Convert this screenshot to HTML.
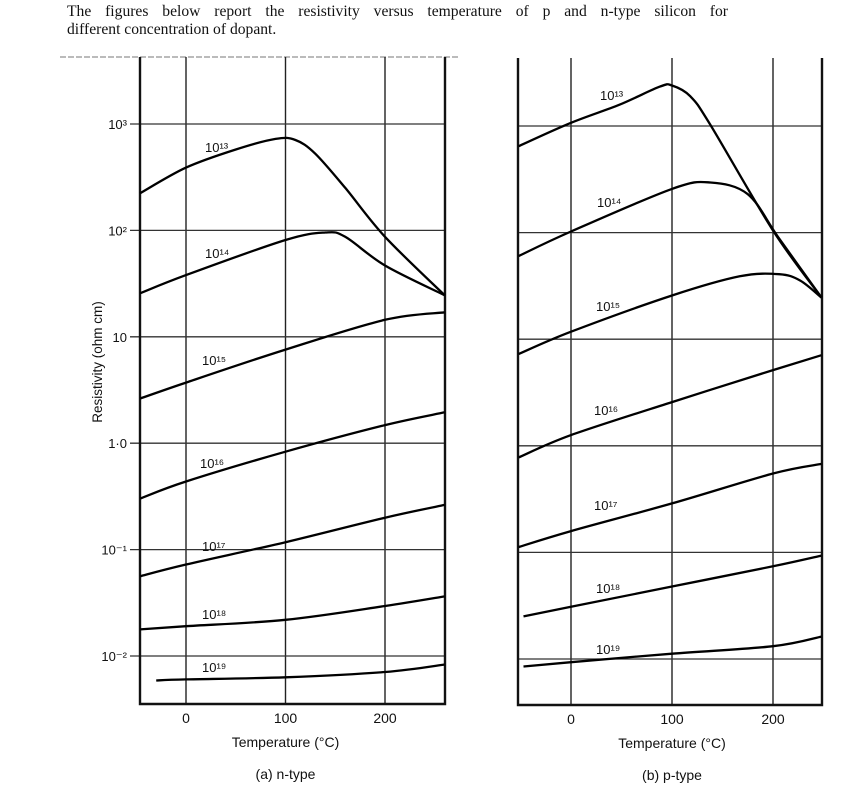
<!DOCTYPE html>
<html><head><meta charset="utf-8">
<style>
html,body{margin:0;padding:0;background:#fff;}
body{width:847px;height:808px;overflow:hidden;position:relative;}
.intro{position:absolute;left:67px;width:661px;font-family:"Liberation Serif",serif;font-size:15.6px;line-height:18px;color:#111;white-space:nowrap;}
#l1{top:3px;text-align:justify;text-align-last:justify;}
#l2{top:21px;}
svg{position:absolute;left:0;top:0;}
svg text{font-family:"Liberation Sans","DejaVu Sans",sans-serif;fill:#111;}
</style></head>
<body>
<div id="l1" class="intro">The figures below report the resistivity versus temperature of p and n-type silicon for</div>
<div id="l2" class="intro">different concentration of dopant.</div>
<svg id="chart" width="847" height="808"></svg>
<script>
// ---- data: temperature (°C) and log10 resistivity (ohm cm) ----
const dopants = ["10¹³","10¹⁴","10¹⁵","10¹⁶","10¹⁷","10¹⁸","10¹⁹"];
const xTicks = [0,100,200];
const yTickLabelsN = ["10³","10²","10","1·0","10⁻¹","10⁻²"];
const yTickLogs = [3,2,1,0,-1,-2];
// n-type
const nT13 = [-46,0,50,90,110,130,160,200,260];
const nR13 = [2.35,2.59,2.76,2.86,2.85,2.72,2.40,1.94,1.39];
const nT14 = [-46,0,100,140,160,200,260];
const nR14 = [1.41,1.58,1.91,1.98,1.94,1.67,1.39];
const nT15 = [-46,0,100,200,260];
const nR15 = [0.42,0.57,0.88,1.16,1.23];
const nT16 = [-46,0,100,200,260];
const nR16 = [-0.52,-0.36,-0.08,0.17,0.29];
const nT17 = [-46,0,100,200,260];
const nR17 = [-1.25,-1.14,-0.93,-0.70,-0.58];
const nT18 = [-46,0,100,200,260];
const nR18 = [-1.75,-1.72,-1.66,-1.53,-1.44];
const nT19 = [-30,0,100,200,260];
const nR19 = [-2.23,-2.22,-2.20,-2.15,-2.08];
// p-type
const pT13 = [-52,0,48,88,100,118,138,200,248];
const pR13 = [2.81,3.03,3.2,3.37,3.38,3.28,3.01,2.02,1.39];
const pT14 = [-52,0,100,138,175,205,248];
const pR14 = [1.78,2.01,2.41,2.47,2.36,1.96,1.39];
const pT15 = [-52,0,100,167,206,227,248];
const pR15 = [0.86,1.07,1.41,1.59,1.61,1.55,1.39];
const pT16 = [-52,0,100,200,248];
const pR16 = [-0.11,0.10,0.41,0.71,0.85];
const pT17 = [-52,0,100,200,248];
const pR17 = [-0.95,-0.80,-0.54,-0.26,-0.17];
const pT18 = [-47,0,100,200,248];
const pR18 = [-1.60,-1.51,-1.32,-1.13,-1.03];
const pT19 = [-47,0,100,200,248];
const pR19 = [-2.07,-2.03,-1.95,-1.88,-1.79];

const NS="http://www.w3.org/2000/svg";
const svg=document.getElementById('chart');
function mk(tag,attrs,parent){const e=document.createElementNS(NS,tag);for(const k in attrs)e.setAttribute(k,attrs[k]);(parent||svg).appendChild(e);return e;}
function smooth(pts){let d="M"+pts[0][0].toFixed(1)+","+pts[0][1].toFixed(1);
 for(let i=0;i<pts.length-1;i++){const p0=pts[i-1]||pts[i],p1=pts[i],p2=pts[i+1],p3=pts[i+2]||p2;
  const c1=[p1[0]+(p2[0]-p0[0])/6,p1[1]+(p2[1]-p0[1])/6],c2=[p2[0]-(p3[0]-p1[0])/6,p2[1]-(p3[1]-p1[1])/6];
  d+=" C"+c1[0].toFixed(1)+","+c1[1].toFixed(1)+" "+c2[0].toFixed(1)+","+c2[1].toFixed(1)+" "+p2[0].toFixed(1)+","+p2[1].toFixed(1);}
 return d;}

function panel(cfg){
 const g=mk('g',{});
 
 
 const xs=t=>cfg.x0+t*cfg.xk, ys=l=>cfg.y3+(3-l)*cfg.dec;
 xTicks.forEach(t=>{const l=mk('line',{x1:xs(t),x2:xs(t),y1:cfg.top,y2:cfg.bot,stroke:'#222','stroke-width':1.4},g);
  
  
  const tx=mk('text',{x:xs(t),y:cfg.bot+19,'text-anchor':'middle','font-size':14},g);tx.textContent=t;
  
  });
 yTickLogs.forEach((v,i)=>{const l=mk('line',{x1:cfg.left-(cfg.labels?10:0),x2:cfg.right,y1:ys(v),y2:ys(v),stroke:'#333','stroke-width':1.3},g);
  
  
  if(cfg.labels){const tx=mk('text',{x:cfg.left-13,y:ys(v)+5,'text-anchor':'end','font-size':13},g);tx.textContent=yTickLabelsN[i];
   
   }});
 const fr=mk('path',{d:`M${cfg.left},${cfg.top} V${cfg.bot} H${cfg.right} V${cfg.top}`,fill:'none',stroke:'#111','stroke-width':2.4},g);
 
 
 cfg.series.forEach((s,i)=>{const pts=s[0].map((t,j)=>[xs(t),ys(s[1][j])]);
  const p=mk('path',{d:smooth(pts),fill:'none',stroke:'#000','stroke-width':2.3},g);
  
  
  const lb=cfg.lab[i];const tx=mk('text',{x:lb[0],y:lb[1],'font-size':13},g);tx.textContent=dopants[i];
  
  });
 const at=mk('text',{x:(xs(100)),y:cfg.bot+43,'text-anchor':'middle','font-size':14},g);at.textContent='Temperature (°C)';
 
 
 const cp=mk('text',{x:(xs(100)),y:cfg.bot+75,'text-anchor':'middle','font-size':14},g);cp.textContent=cfg.caption;
 
 
}
const dl=mk('line',{x1:60,x2:460,y1:57,y2:57,stroke:'#777','stroke-width':1,'stroke-dasharray':'6 2'});


panel({name:'n-type',x0:186,xk:0.995,y3:124,dec:106.4,top:57,bot:704,left:140,right:445,labels:true,caption:'(a) n-type',
 series:[[nT13,nR13],[nT14,nR14],[nT15,nR15],[nT16,nR16],[nT17,nR17],[nT18,nR18],[nT19,nR19]],
 lab:[[205,152],[205,258],[202,365],[200,468],[202,551],[202,619],[202,672]]});
panel({name:'p-type',x0:571,xk:1.01,y3:126,dec:106.6,top:58,bot:705,left:518,right:822,labels:false,caption:'(b) p-type',
 series:[[pT13,pR13],[pT14,pR14],[pT15,pR15],[pT16,pR16],[pT17,pR17],[pT18,pR18],[pT19,pR19]],
 lab:[[600,100],[597,207],[596,311],[594,415],[594,510],[596,593],[596,654]]});
const yt=mk('text',{x:0,y:0,'text-anchor':'middle','font-size':13.5,transform:'translate(102,362) rotate(-90)'});
yt.textContent='Resistivity (ohm cm)';


</script>
</body></html>
